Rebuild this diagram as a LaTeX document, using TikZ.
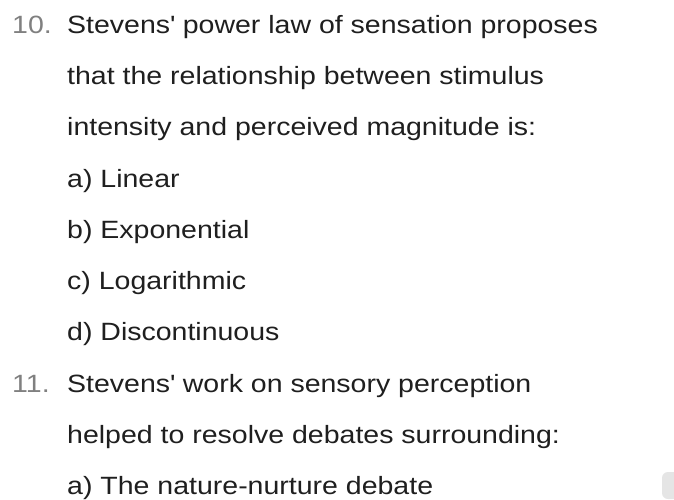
\documentclass[tikz,border=0pt]{standalone}
\usepackage{fontspec}
\setmainfont[FakeStretch=1.14]{Liberation Sans}
\begin{document}
\begin{tikzpicture}[x=1pt,y=-1pt,
  txt/.style={anchor=base west,inner sep=0pt,font=\fontsize{25}{30}\selectfont,text=black!88},
  num/.style={txt,text=black!50}]
\useasboundingbox[fill=white] (0,0) rectangle (674,499);
\fill[black!10,rounded corners=6pt] (662,472) rectangle (680,499);
\node[num] (n10) at (12,33) {10.};
\node[txt] (l1) at (67,33) {Stevens\textquotesingle\ power law of sensation proposes};
\node[txt] (l2) at (67,84) {that the relationship between stimulus};
\node[txt] (l3) at (67,135) {intensity and perceived magnitude is:};
\node[txt] (l4) at (67,187) {a) Linear};
\node[txt] (l5) at (67,238) {b) Exponential};
\node[txt] (l6) at (67,289) {c) Logarithmic};
\node[txt] (l7) at (67,340) {d) Discontinuous};
\node[num] (n11) at (12,392) {11.};
\node[txt] (l8) at (67,392) {Stevens\textquotesingle\ work on sensory perception};
\node[txt] (l9) at (67,443) {helped to resolve debates surrounding:};
\node[txt] (l10) at (67,494) {a) The nature-nurture debate};
\end{tikzpicture}
\end{document}
